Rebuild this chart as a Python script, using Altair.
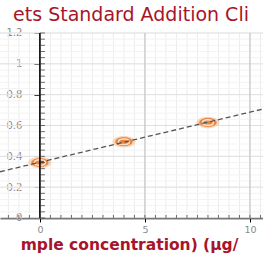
import altair as alt
import pandas as pd

# ---- data ----
conc = [0, 4, 8]
absorb = [0.36, 0.495, 0.62]

x_major = [0, 5, 10]
y_major = [0, 0.2, 0.4, 0.6, 0.8, 1.0, 1.2]
x_minor = [round(-1.5 + 0.5 * i, 2) for i in range(25)]
y_minor = [round(0.04 * i, 2) for i in range(31)]
y_grid_major = [0.2, 0.4, 0.6, 0.8, 1.0, 1.2]
x_grid_major = [5, 10]

x_domain = [-1.9, 10.62]
y_domain = [-0.292, 1.414]
plot_bottom = 0
plot_top = 1.2

title_text = "ets Standard Addition Cli"
x_title = "mple concentration) (\u00b5g/"

W = 263
H = 263
RED = "#a8142a"
FONT = "DejaVu Sans"

y_axis_offset = -(0 - x_domain[0]) / (x_domain[1] - x_domain[0]) * W
x_axis_offset = -(0 - y_domain[0]) / (y_domain[1] - y_domain[0]) * H

xs = alt.Scale(domain=x_domain, nice=False, zero=False)
ys = alt.Scale(domain=y_domain, nice=False, zero=False)

xaxis = alt.Axis(values=x_major, orient="bottom", offset=x_axis_offset, grid=False,
                 domainColor="black", domainWidth=1.5, tickColor="black", tickSize=4,
                 labelColor="#8a8a8a", labelFontSize=9.5, labelFont=FONT, labelPadding=3,
                 labelFlush=False, title=x_title, titleColor=RED, titleFontWeight="bold",
                 titleFontSize=15.5, titleFont=FONT, titlePadding=3, titleX=129)
yaxis = alt.Axis(values=y_major, orient="left", offset=y_axis_offset, grid=False, domain=False,
                 tickColor="black", tickSize=6, labelColor="#8a8a8a", labelFontSize=10,
                 labelFont=FONT, labelPadding=12, format="~g", title="", labelFlush=False)


def X(f):
    return alt.X(f, scale=xs, axis=xaxis)


def Y(f):
    return alt.Y(f, scale=ys, axis=yaxis)


pts = pd.DataFrame({"conc": conc, "abs": absorb})

# grid
vminor = alt.Chart(pd.DataFrame({"x": x_minor, "y0": plot_bottom, "y1": plot_top})).mark_rule(
    color="#ececec", strokeWidth=1).encode(x=X("x:Q"), y=Y("y0:Q"), y2="y1:Q")
hminor = alt.Chart(pd.DataFrame({"y": y_minor})).mark_rule(color="#f3f3f3", strokeWidth=1).encode(
    y=Y("y:Q"))
hmajor = alt.Chart(pd.DataFrame({"y": y_grid_major})).mark_rule(color="#e0e0e0", strokeWidth=1).encode(
    y=Y("y:Q"))
vmajor = alt.Chart(pd.DataFrame({"x": x_grid_major, "y0": plot_bottom, "y1": plot_top})).mark_rule(
    color="#bdbdbd", strokeWidth=1).encode(x=X("x:Q"), y=Y("y0:Q"), y2="y1:Q")

# y axis line
yline = alt.Chart(pd.DataFrame({"x": [0], "y0": [plot_bottom], "y1": [plot_top]})).mark_rule(
    color="black", strokeWidth=1.6).encode(x=X("x:Q"), y=Y("y0:Q"), y2="y1:Q")

# minor ticks
ytick = alt.Chart(pd.DataFrame({"y": y_minor, "x": 0})).mark_tick(
    orient="horizontal", size=5, thickness=1, color="#333333", xOffset=2.5).encode(
    x=X("x:Q"), y=Y("y:Q"))
xtick = alt.Chart(pd.DataFrame({"x": x_minor, "y": 0})).mark_tick(
    orient="vertical", size=3, thickness=1, color="#333333", yOffset=-1.5).encode(
    x=X("x:Q"), y=Y("y:Q"))

ellipse = "M-1,0 A1,0.5 0 1,1 1,0 A1,0.5 0 1,1 -1,0 Z"

halo = alt.Chart(pts).mark_point(shape=ellipse, size=529, filled=True, fill="#f8cba8",
                                 opacity=0.8, strokeWidth=0).encode(x=X("conc:Q"), y=Y("abs:Q"))
ring = alt.Chart(pts).mark_point(shape=ellipse, size=300, filled=True, fill="#e8843e",
                                 opacity=1, strokeWidth=0).encode(x=X("conc:Q"), y=Y("abs:Q"))
inner = alt.Chart(pts).mark_point(shape=ellipse, size=121, filled=False, stroke="#fbe3d0",
                                  strokeWidth=1.5, opacity=1).encode(x=X("conc:Q"), y=Y("abs:Q"))

trend = alt.Chart(pts).transform_regression("conc", "abs", extent=x_domain).mark_line(
    color="#555555", strokeDash=[5, 3], strokeWidth=1.3).encode(x=X("conc:Q"), y=Y("abs:Q"))

title = alt.Chart(pd.DataFrame({"t": [title_text]})).mark_text(
    font=FONT, fontSize=19, color=RED, align="center", baseline="alphabetic").encode(
    text="t:N", x=alt.value(131), y=alt.value(21))

chart = alt.layer(vminor, hminor, hmajor, vmajor, halo, ring, inner, trend, yline, ytick, xtick,
                  title).properties(
    width=W, height=H, autosize=alt.AutoSizeParams(type="none"), padding=0
).configure_view(stroke=None)

chart.save("out.html", embed_options={"renderer": "svg", "actions": False})
